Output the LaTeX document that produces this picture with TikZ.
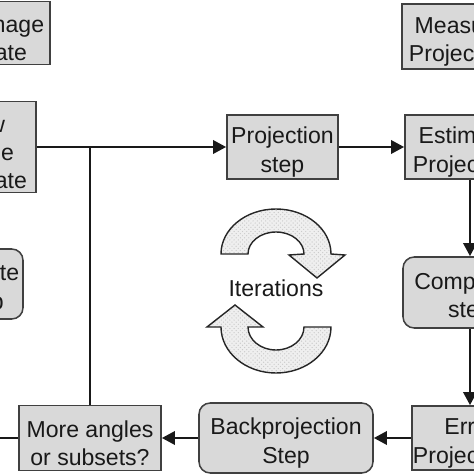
\documentclass[tikz,border=0pt]{standalone}
\usepackage{fontspec}
\setmainfont{Liberation Sans}
\usetikzlibrary{arrows.meta,patterns}
\newcommand{\lift}{\rule{0pt}{19pt}}

\begin{document}
\begin{tikzpicture}[
  font=\fontsize{16.4}{20}\selectfont,
  stepbox/.style={draw=black!75, fill=black!15, line width=1.1pt, align=center, inner sep=0pt, text=black!90},
  roundbox/.style={stepbox, rounded corners=8pt},
  arr/.style={-{Triangle[length=3.3mm,width=3.3mm]}, line width=2.1pt, black!90},
  link/.style={line width=2.1pt, black!90},
  turn/.style={draw=black!85, line width=1pt},
]
\path[use as bounding box, clip] (0,0) rectangle (11.85,11.85);
% start of the loop
\node[stepbox, minimum width=3.4cm, minimum height=1.575cm] (init) at (-0.45,11.025) {\lift Initial Image\\Estimate};
\node[stepbox, minimum width=2.7cm, minimum height=2.275cm] (new) at (-0.45,8.175) {\lift New\\Image\\Estimate};
\node[roundbox, minimum width=2.05cm, minimum height=1.75cm] (update) at (-0.45,4.75) {\lift Update\\step};
% top row
\node[stepbox, minimum width=2.775cm, minimum height=1.6cm] (proj) at (7.0625,8.175) {\lift Projection\\step};
\node[stepbox, minimum width=3.25cm, minimum height=1.6cm] (est) at (11.75,8.175) {\lift Estimated\\Projections};
\node[stepbox, minimum width=3.2cm, minimum height=1.625cm] (meas) at (11.65,10.9375) {\lift Measured\\Projections};
% right column
\node[roundbox, minimum width=3.35cm, minimum height=1.775cm] (comp) at (11.75,4.5375) {\lift Computing\\step};
\node[stepbox, minimum width=2.9cm, minimum height=1.6cm] (err) at (11.75,0.9) {\lift Error\\Projections};
% bottom row
\node[roundbox, minimum width=4.35cm, minimum height=1.75cm] (back) at (7.15,0.9) {\lift Backprojection\\Step};
\node[stepbox, minimum width=3.55cm, minimum height=1.625cm] (more) at (2.25,0.9) {\lift More angles\\or subsets?};
\node[text=black!90] (iter) at (6.9,4.65) {Iterations};
% connectors
\foreach \a/\b in {new/proj, proj/est, est/comp, comp/err, err/back, back/more} \draw[arr] (\a) -- (\b);
\coordinate (jn) at (more |- new);
\coordinate (out) at (-0.2,0.9);
\draw[link] (more) -- (jn);
\draw[link] (more) -- (out);
% circular arrows
\path[pattern=crosshatch dots, pattern color=black!35]
  (5.525,5.5) arc[start angle=180, end angle=0, x radius=1.375cm, y radius=1.125cm]
  -- (8.625,5.475) -- (7.925,4.9) -- (7.225,5.475) -- (7.6,5.5)
  arc[start angle=0, end angle=180, x radius=0.7cm, y radius=0.55cm] -- cycle;
\draw[turn, fill=black!10, fill opacity=0.6]
  (5.525,5.5) arc[start angle=180, end angle=0, x radius=1.375cm, y radius=1.125cm]
  -- (8.625,5.475) -- (7.925,4.9) -- (7.225,5.475) -- (7.6,5.5)
  arc[start angle=0, end angle=180, x radius=0.7cm, y radius=0.55cm] -- cycle;
\path[pattern=crosshatch dots, pattern color=black!35]
  (8.275,3.675) arc[start angle=0, end angle=-180, x radius=1.375cm, y radius=1.15cm]
  -- (5.175,3.675) -- (5.875,4.225) -- (6.575,3.675) -- (6.2,3.675)
  arc[start angle=-180, end angle=0, x radius=0.7cm, y radius=0.575cm] -- cycle;
\draw[turn, fill=black!10, fill opacity=0.6]
  (8.275,3.675) arc[start angle=0, end angle=-180, x radius=1.375cm, y radius=1.15cm]
  -- (5.175,3.675) -- (5.875,4.225) -- (6.575,3.675) -- (6.2,3.675)
  arc[start angle=-180, end angle=0, x radius=0.7cm, y radius=0.575cm] -- cycle;
\end{tikzpicture}
\end{document}
